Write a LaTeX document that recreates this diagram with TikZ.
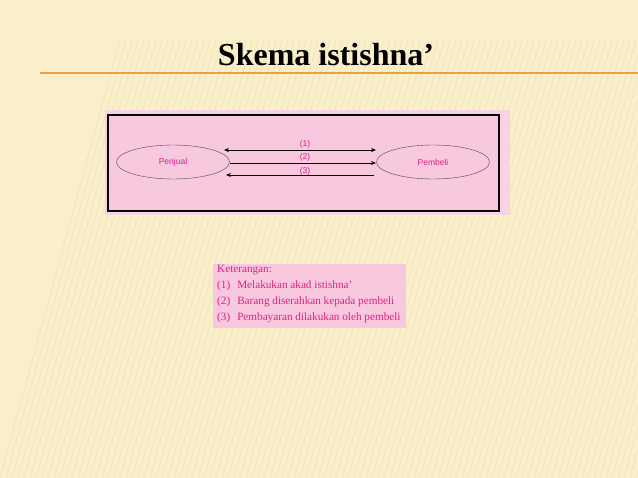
\documentclass[tikz,border=0pt]{standalone}
\usepackage{fontspec}
\setmainfont{Liberation Serif}
\newfontfamily\labelfont{Liberation Sans}
\usetikzlibrary{shapes.geometric,arrows.meta}

\definecolor{slidebg}{RGB}{250,239,203}
\definecolor{stripe}{RGB}{240,226,185}
\definecolor{rulecol}{RGB}{238,160,60}
\definecolor{pinkbox}{RGB}{248,200,222}
\definecolor{magentatext}{RGB}{222,30,140}

\tikzset{
    party/.style={ellipse, draw=black!70, thin, minimum width=113pt, minimum height=34pt,
        font=\labelfont\fontsize{8.5}{10}\selectfont, text=magentatext},
    flow/.style={thick, -{Stealth[length=5pt,width=4pt]}},
    flowlabel/.style={font=\labelfont\fontsize{8.5}{10}\selectfont, text=magentatext, inner sep=0pt},
    legendline/.style={anchor=west, font=\fontsize{11.2}{13}\selectfont, text=magentatext, inner sep=0pt},
}

\begin{document}
\begin{tikzpicture}[x=1pt,y=-1pt]

% Slide background
\fill[slidebg] (0,0) rectangle (638,478);
\useasboundingbox (0,0) rectangle (638,478);
\foreach \i in {0,6,...,640}
    \draw[stripe, line width=0.6pt] (\i,478) -- (\i+120,40);
\fill[slidebg, opacity=0.6] (0,0) rectangle (638,40);

% Title
\node[font=\bfseries\fontsize{32}{36}\selectfont] (title) at (326,55) {Skema istishna’};
\draw[rulecol, line width=1.2pt] (40,73) -- (638,73);

% Diagram box
\fill[pinkbox!80] (105,110) rectangle (510,215);
\draw[fill=pinkbox, line width=1.3pt] (108,115) rectangle (499,211);

\node[party] (penjual) at (173,162) {Penjual};
\node[party] (pembeli) at (433,162) {Pembeli};

\coordinate (a1) at (224,150);
\coordinate (b1) at (376,150);
\coordinate (a2) at (230,163);
\coordinate (b2) at (376,163);
\coordinate (a3) at (226,175);
\coordinate (b3) at (374,175);

\draw[flow, {Stealth[length=5pt,width=4pt]}-{Stealth[length=5pt,width=4pt]}] (a1) -- (b1);
\draw[flow] (a2) -- (b2);
\draw[flow] (b3) -- (a3);

\node[flowlabel] (l1) at (305,144) {(1)};
\node[flowlabel] (l2) at (305,157) {(2)};
\node[flowlabel] (l3) at (305,171) {(3)};

% Legend
\fill[pinkbox] (213,264) rectangle (406,328);
\node[legendline] (k0) at (217,270) {Keterangan:};
\node[legendline] (k1) at (217,286) {(1)\hspace{7pt}Melakukan akad istishna'};
\node[legendline] (k2) at (217,302) {(2)\hspace{7pt}Barang diserahkan kepada pembeli};
\node[legendline] (k3) at (217,318) {(3)\hspace{7pt}Pembayaran dilakukan oleh pembeli};

\end{tikzpicture}
\end{document}
